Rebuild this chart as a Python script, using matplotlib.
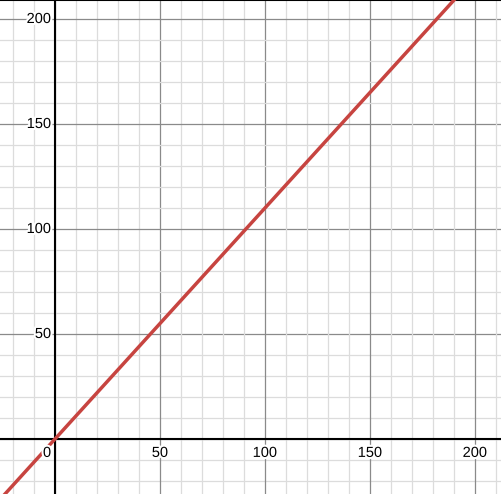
import numpy as np
import matplotlib
matplotlib.use('Agg')
from matplotlib import pyplot as plt
import matplotlib.patheffects as pe

# line y = slope * x
slope = 1.1
x_ticks = [50, 100, 150, 200]
y_ticks = [50, 100, 150, 200]
xlim = (-26.2, 212.4)
ylim = (-26.2, 209.05)

plt.rcParams['font.family'] = ['Liberation Sans', 'DejaVu Sans']

fig = plt.figure(figsize=(5.01, 4.94), dpi=100)
ax = fig.add_axes([0, 0, 1, 1])
ax.set_xlim(xlim)
ax.set_ylim(ylim)

# grid: minor every 10, major every 50
for v in np.arange(-20, 220, 10):
    major = (v % 50 == 0)
    col = '#8a8a8a' if major else '#dcdcdc'
    lw = 0.9 if major else 0.9
    ax.axvline(v, color=col, lw=lw, zorder=1)
    ax.axhline(v, color=col, lw=lw, zorder=1)

ax.axhline(0, color='black', lw=1.5, zorder=2)
ax.axvline(0, color='black', lw=1.5, zorder=2)

xs = np.array(xlim)
ax.plot(xs, slope * xs, color='#c74440', lw=2.5, zorder=3)

halo = [pe.withStroke(linewidth=3, foreground='white')]
for t in x_ticks:
    ax.text(t, -3.3, str(t), ha='center', va='top', fontsize=10.5,
            path_effects=halo, zorder=4)
for t in y_ticks:
    ax.text(-1.8, t, str(t), ha='right', va='center', fontsize=10.5,
            path_effects=halo, zorder=4)
ax.text(-1.8, -3.3, '0', ha='right', va='top', fontsize=10.5,
        path_effects=halo, zorder=4)

ax.set_xticks([])
ax.set_yticks([])
for s in ['left', 'right', 'bottom']:
    ax.spines[s].set_visible(False)
ax.spines['top'].set_linewidth(1.5)

fig.savefig('out.png', dpi=100)
